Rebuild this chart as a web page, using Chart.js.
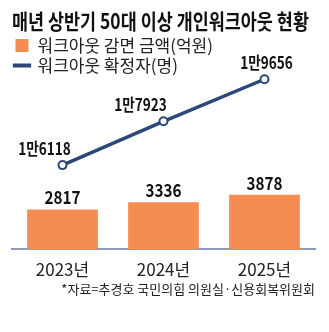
<!DOCTYPE html>
<html>
<head>
<meta charset="utf-8">
<script src="https://cdn.jsdelivr.net/npm/chart.js@4"></script>
<style>
  html, body { margin: 0; padding: 0; background: #fff; }
  #wrap { width: 329px; height: 332px; }
</style>
</head>
<body>
<div id="wrap"><canvas id="workoutChart"></canvas></div>
<script>
// 매년 상반기 50대 이상 개인워크아웃 현황
const years = ['2023년', '2024년', '2025년'];
const reliefAmount = [2817, 3336, 3878];      // 억원
const confirmedPeople = [16118, 17923, 19656]; // 명
const peopleLabels = ['1만6118', '1만7923', '1만9656'];

const FONT = '"Noto Sans CJK KR", "Noto Sans", sans-serif';
const ORANGE = '#f58d52';
const NAVY = '#2b4878';

// 제목 (가로로 좁게 눌러서 그림)
const titlePlugin = {
  id: 'squeezedTitle',
  afterDraw(chart) {
    const ctx = chart.ctx;
    ctx.save();
    ctx.font = 'bold 21px ' + FONT;
    ctx.fillStyle = '#111';
    ctx.textBaseline = 'middle';
    ctx.translate(12, 21);
    ctx.scale(0.83, 1);
    ctx.fillText('매년 상반기 50대 이상 개인워크아웃 현황', 0, 0);
    ctx.restore();
  }
};

// 막대 위 금액, 꺾은선 위 인원
const valueLabels = {
  id: 'valueLabels',
  afterDatasetsDraw(chart) {
    const ctx = chart.ctx;
    ctx.save();
    ctx.fillStyle = '#111';
    ctx.textAlign = 'center';
    ctx.textBaseline = 'bottom';

    chart.getDatasetMeta(0).data.forEach((bar, i) => {
      ctx.save();
      ctx.translate(bar.x, bar.y - 3);
      ctx.scale(0.85, 1);
      ctx.font = 'bold 18px ' + FONT;
      ctx.fillText(reliefAmount[i], 0, 0);
      ctx.restore();
    });

    const shift = [-18, -23, 2];
    chart.getDatasetMeta(1).data.forEach((pt, i) => {
      ctx.save();
      ctx.translate(pt.x + shift[i], pt.y - 8);
      ctx.scale(0.8, 1);
      ctx.font = 'bold 17px ' + FONT;
      ctx.fillText(peopleLabels[i], 0, 0);
      ctx.restore();
    });
    ctx.restore();
  }
};

new Chart(document.getElementById('workoutChart'), {
  data: {
    labels: years,
    datasets: [{
      type: 'bar',
      label: '워크아웃 감면 금액(억원)',
      data: reliefAmount,
      backgroundColor: ORANGE,
      categoryPercentage: 0.7,
      barPercentage: 1,
      yAxisID: 'yBar',
      order: 2
    }, {
      type: 'line',
      label: '워크아웃 확정자(명)',
      data: confirmedPeople,
      borderColor: NAVY,
      borderWidth: 3.5,
      pointRadius: 4,
      pointBorderWidth: 2,
      pointBackgroundColor: '#fff',
      pointBorderColor: NAVY,
      yAxisID: 'yLine',
      clip: false,
      order: 1
    }]
  },
  options: {
    responsive: true,
    maintainAspectRatio: false,
    animation: false,
    layout: { padding: { top: 34, left: 12, right: 14, bottom: 35 } },
    plugins: {
      legend: {
        position: 'top',
        align: 'start',
        labels: {
          usePointStyle: true,
          boxWidth: 14,
          boxHeight: 13,
          padding: 3,
          color: '#222',
          font: { family: FONT, size: 17 },
          generateLabels(chart) {
            const items = Chart.defaults.plugins.legend.labels.generateLabels(chart);
            items.forEach(item => {
              if (item.datasetIndex === 0) {
                item.pointStyle = 'rect';
                item.fillStyle = ORANGE;
                item.strokeStyle = ORANGE;
                item.lineWidth = 0;
              } else {
                item.pointStyle = 'line';
                item.lineWidth = 4;
                item.strokeStyle = NAVY;
              }
            });
            return items.sort((a, b) => a.datasetIndex - b.datasetIndex);
          }
        }
      },
      tooltip: { enabled: false },
      subtitle: {
        display: true,
        position: 'bottom',
        align: 'end',
        text: '*자료=추경호 국민의힘 의원실·신용회복위원회',
        color: '#222',
        font: { family: FONT, size: 13 },
        padding: { top: 0, bottom: 0 }
      }
    },
    scales: {
      x: {
        grid: { display: false },
        border: { color: '#8d9bb8', width: 2 },
        ticks: { color: '#222', font: { family: FONT, size: 17 }, padding: 2 }
      },
      yBar: { display: false, min: 0, max: 11800 },
      yLine: { display: false, min: 12660, max: 19460 }
    }
  },
  plugins: [titlePlugin, valueLabels]
});
</script>
</body>
</html>
